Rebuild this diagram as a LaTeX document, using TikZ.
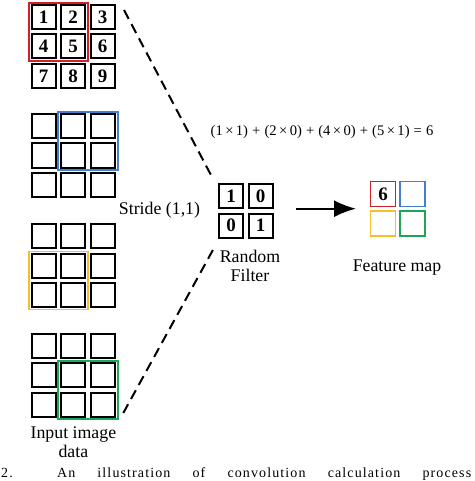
\documentclass[tikz,border=0pt]{standalone}
\usepackage{fontspec}
\setmainfont{Liberation Serif}
\usetikzlibrary{arrows.meta}
\definecolor{hlred}{RGB}{210,30,40}
\definecolor{hlblue}{RGB}{70,125,205}
\definecolor{hlyellow}{RGB}{242,192,40}
\definecolor{hlgreen}{RGB}{30,165,85}
\newcommand{\lbl}{\fontsize{17.8}{20}\selectfont}
\newcommand{\opsp}{\hspace{0.28em}}
\begin{document}
\begin{tikzpicture}[x=1pt,y=-1pt,
  cell/.style={draw=black,line width=2pt,minimum size=24pt,inner sep=0pt,font=\fontsize{19}{20}\selectfont\bfseries},
  fcell/.style={line width=1.5pt,minimum size=25pt,inner sep=0pt,font=\fontsize{19}{20}\selectfont\bfseries},
  hl/.style={line width=1.6pt},
  dashline/.style={line width=2pt,dash pattern=on 10pt off 6pt},
  lab/.style={font=\lbl,inner sep=0pt,align=center}]
\useasboundingbox (0,0) rectangle (474,481);
% input grids
\foreach \g/\t in {1/4,2/113,3/223,4/332.7}{
  \foreach \r in {0,1,2}{
    \foreach \c in {0,1,2}{
      \node[cell] (g\g-\r-\c) at ({43.7+29.5*\c},{\t+13+29.5*\r}) {};
    }
  }
}
% numbers in first grid
\foreach \r/\c/\n in {0/0/1,0/1/2,0/2/3,1/0/4,1/1/5,1/2/6,2/0/7,2/1/8,2/2/9}{
  \node[font=\fontsize{19}{20}\selectfont\bfseries,inner sep=0pt] (n\n) at (g1-\r-\c) {\n};
}
% highlights
\draw[hl,hlred] ([shift={(-2,-1.2)}]g1-0-0.north west) rectangle ([shift={(2,1.5)}]g1-1-1.south east);
\draw[hl,hlblue] ([shift={(-2,-1.2)}]g2-0-1.north west) rectangle ([shift={(2,1.5)}]g2-1-2.south east);
\draw[hl,hlyellow] ([shift={(-2,-1.2)}]g3-1-0.north west) rectangle ([shift={(2,1.5)}]g3-2-1.south east);
\draw[hl,hlgreen] ([shift={(-2,-1.2)}]g4-1-1.north west) rectangle ([shift={(2,1.5)}]g4-2-2.south east);
% filter
\node[cell] (f00) at (231,196) {1};
\node[cell] (f01) at (260.5,196) {0};
\node[cell] (f10) at (231,225.5) {0};
\node[cell] (f11) at (260.5,225.5) {1};
% feature map
\node[fcell,draw=hlred] (m00) at (383,194) {6};
\node[fcell,draw=hlblue] (m01) at (412.5,194) {};
\node[fcell,draw=hlyellow] (m10) at (383,223.5) {};
\node[fcell,draw=hlgreen] (m11) at (412.5,223.5) {};
% dashed lines
\coordinate (d1a) at (124,10);
\coordinate (d1b) at (212,177);
\coordinate (d2a) at (123.3,413);
\coordinate (d2b) at (214,248);
\draw[dashline] (d1a) -- (d1b);
\draw[dashline] (d2a) -- (d2b);
% arrow
\coordinate (a1) at (296,208.7);
\coordinate (a2) at (356,208.7);
\draw[line width=2pt,-{Latex[length=22pt,width=17pt]}] (a1) -- (a2);
% texts
\node[lab,font=\fontsize{14.6}{16}\selectfont] (formula) at (322,131.7) {(1\,×\,1)\opsp+\opsp(2\,×\,0)\opsp+\opsp(4\,×\,0)\opsp+\opsp(5\,×\,1)\opsp=\opsp6};
\node[lab] (stride) at (159.5,210) {Stride (1,1)};
\node[lab] (filt) at (250,266) {Random\\[-1pt]Filter};
\node[lab] (fmap) at (397,267.7) {Feature map};
\node[lab] (inp) at (73.4,442.5) {Input image\\[-1pt]data};
\node[anchor=base west,inner sep=0pt,font=\fontsize{14}{14}\selectfont] (cap) at (1,477.5) {\makebox[470pt][s]{\addfontfeatures{LetterSpace=8}2.\ \ An illustration of convolution calculation process}};
\end{tikzpicture}
\end{document}
